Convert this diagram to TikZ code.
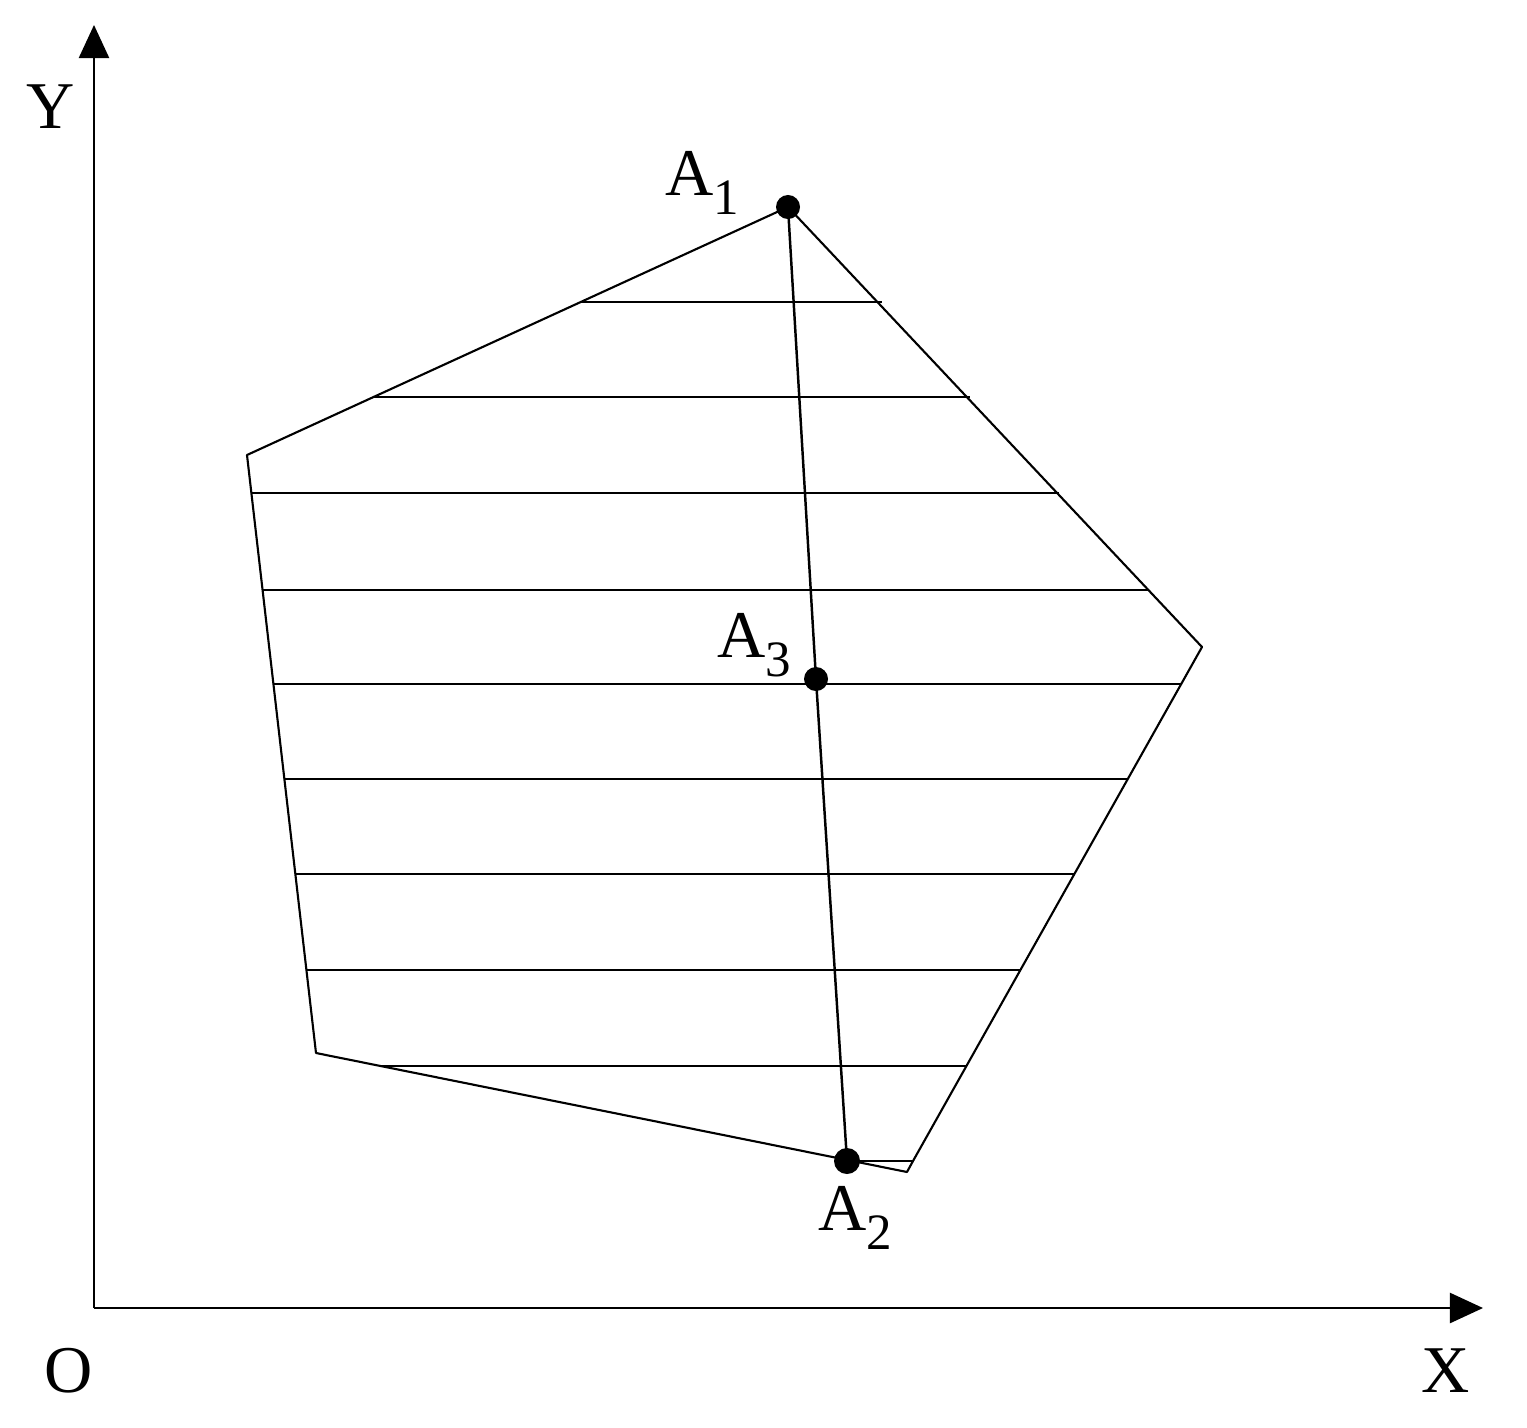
\documentclass[tikz,border=0pt]{standalone}
\usepackage{fontspec}
\setmainfont{Liberation Serif}
\usetikzlibrary{arrows.meta}
\newcommand\subidx[1]{\raisebox{-0.65ex}{\fontsize{14.5}{14.5}\selectfont #1}}
\begin{document}
\begin{tikzpicture}[x=0.01cm,y=-0.01cm,
  axis/.style={line width=0.65pt,-{Triangle[length=0.33cm,width=0.3cm]}},
  edge/.style={line width=0.6pt,line join=round},
  hatch/.style={line width=0.7pt},
  dot/.style={circle,fill=black,inner sep=0pt,minimum size=0.24cm},
  lab/.style={inner sep=0pt,anchor=base west,font=\fontsize{19}{20}\selectfont}]
\useasboundingbox (0,0) rectangle (1527,1427);
% axes
\coordinate (O) at (94,1308);
\coordinate (Ytip) at (94,25);
\coordinate (Xtip) at (1483,1308);
\draw[axis] (O) -- (Ytip);
\draw[axis] (O) -- (Xtip);
\node[lab] (ylab) at (26,128) {Y};
\node[lab] (xlab) at (1421,1392) {X};
\node[lab] (olab) at (44,1392) {O};
% polygon vertices
\coordinate (P1) at (788,207);
\coordinate (P2) at (1202,647);
\coordinate (P3) at (913,1161);
\coordinate (P4) at (907,1172);
\coordinate (P5) at (316,1053);
\coordinate (P6) at (247,455);
\draw[edge] (P1) -- (P2) -- (P3) -- (P4) -- (P5) -- (P6) -- cycle;
% hatch lines
\foreach \xl/\xr/\y in {581/882/302, 373/970/397, 251/1059/493, 263/1148/590,
  273/1181/684, 284/1128/779, 295/1074/874, 306/1020/970, 380/966/1066}{
  \draw[hatch] (\xl,\y) -- (\xr,\y);
}
% points
\node[dot] (A1) at (788,207) {};
\node[dot] (A3) at (816,679) {};
\node[dot,minimum size=0.26cm] (A2) at (847,1161) {};
\draw[hatch] (A2.center) -- (P3);
\draw[hatch] (A1.center) -- (A3.center) -- (A2.center);
% labels
\node[lab] (a1lab) at (665,195) {A\subidx{1}};
\node[lab] (a3lab) at (717,657) {A\subidx{3}};
\node[lab] (a2lab) at (818,1230) {A\subidx{2}};
\end{tikzpicture}
\end{document}
